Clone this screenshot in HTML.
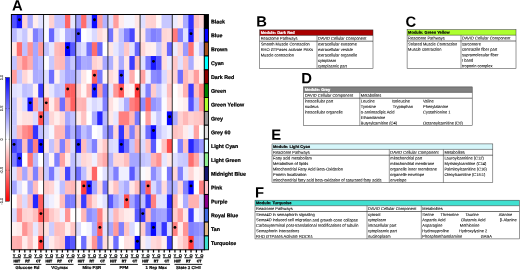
<!DOCTYPE html>
<html><head><meta charset="utf-8"><title>Figure</title>
<style>html,body{margin:0;padding:0;background:#fff}svg{display:block}text{font-family:'Liberation Sans',Arial,Helvetica,sans-serif;text-rendering:geometricPrecision;fill:#000;stroke:#000;stroke-width:0.06px}.b{font-weight:bold;stroke-width:0.18px}.t{font-size:4px}.l{font-size:5.3px;font-weight:bold;stroke-width:0.22px}.p{font-size:14.8px;font-weight:bold;stroke:none}</style></head><body>
<svg width="520" height="270" viewBox="0 0 520 270">
<rect width="520" height="270" fill="#fff"/>
<g>
<rect x="11.4" y="14.5" width="5.76" height="14.24" fill="#5252ff"/>
<rect x="16.76" y="14.5" width="5.76" height="14.24" fill="#1414ff"/>
<rect x="22.12" y="14.5" width="5.76" height="14.24" fill="#ffd4d4"/>
<rect x="27.48" y="14.5" width="5.76" height="14.24" fill="#ababff"/>
<rect x="32.85" y="14.5" width="5.76" height="14.24" fill="#ffeded"/>
<rect x="38.21" y="14.5" width="5.76" height="14.24" fill="#e0e0ff"/>
<rect x="43.57" y="14.5" width="5.76" height="14.24" fill="#f7f7ff"/>
<rect x="48.93" y="14.5" width="5.76" height="14.24" fill="#ffd1d1"/>
<rect x="54.29" y="14.5" width="5.76" height="14.24" fill="#c2c2ff"/>
<rect x="59.66" y="14.5" width="5.76" height="14.24" fill="#c2c2ff"/>
<rect x="65.02" y="14.5" width="5.76" height="14.24" fill="#ff6666"/>
<rect x="70.38" y="14.5" width="5.76" height="14.24" fill="#e6e6ff"/>
<rect x="75.74" y="14.5" width="5.76" height="14.24" fill="#a1a1ff"/>
<rect x="81.1" y="14.5" width="5.76" height="14.24" fill="#ff6e6e"/>
<rect x="86.46" y="14.5" width="5.76" height="14.24" fill="#c2c2ff"/>
<rect x="91.83" y="14.5" width="5.76" height="14.24" fill="#0d0dff"/>
<rect x="97.19" y="14.5" width="5.76" height="14.24" fill="#ff9e9e"/>
<rect x="102.55" y="14.5" width="5.76" height="14.24" fill="#b2b2ff"/>
<rect x="107.91" y="14.5" width="5.76" height="14.24" fill="#dedeff"/>
<rect x="113.27" y="14.5" width="5.76" height="14.24" fill="#ff9e9e"/>
<rect x="118.63" y="14.5" width="5.76" height="14.24" fill="#ffebeb"/>
<rect x="124" y="14.5" width="5.76" height="14.24" fill="#f5f5ff"/>
<rect x="129.36" y="14.5" width="5.76" height="14.24" fill="#f5f5ff"/>
<rect x="134.72" y="14.5" width="5.76" height="14.24" fill="#ffe6e6"/>
<rect x="140.08" y="14.5" width="5.76" height="14.24" fill="#dedeff"/>
<rect x="145.44" y="14.5" width="5.76" height="14.24" fill="#ffd4d4"/>
<rect x="150.8" y="14.5" width="5.76" height="14.24" fill="#ffd1d1"/>
<rect x="156.17" y="14.5" width="5.76" height="14.24" fill="#fff7f7"/>
<rect x="161.53" y="14.5" width="5.76" height="14.24" fill="#c7c7ff"/>
<rect x="166.89" y="14.5" width="5.76" height="14.24" fill="#c7c7ff"/>
<rect x="172.25" y="14.5" width="5.76" height="14.24" fill="#ebebff"/>
<rect x="177.61" y="14.5" width="5.76" height="14.24" fill="#ffeded"/>
<rect x="182.97" y="14.5" width="5.76" height="14.24" fill="#ababff"/>
<rect x="188.34" y="14.5" width="5.76" height="14.24" fill="#3333ff"/>
<rect x="193.7" y="14.5" width="5.76" height="14.24" fill="#ffc2c2"/>
<rect x="199.06" y="14.5" width="5.76" height="14.24" fill="#ffd6d6"/>
<rect x="11.4" y="28.34" width="5.76" height="14.24" fill="#babaff"/>
<rect x="16.76" y="28.34" width="5.76" height="14.24" fill="#e0e0ff"/>
<rect x="22.12" y="28.34" width="5.76" height="14.24" fill="#c7c7ff"/>
<rect x="27.48" y="28.34" width="5.76" height="14.24" fill="#fff0f0"/>
<rect x="32.85" y="28.34" width="5.76" height="14.24" fill="#8080ff"/>
<rect x="38.21" y="28.34" width="5.76" height="14.24" fill="#a6a6ff"/>
<rect x="43.57" y="28.34" width="5.76" height="14.24" fill="#fafaff"/>
<rect x="48.93" y="28.34" width="5.76" height="14.24" fill="#6666ff"/>
<rect x="54.29" y="28.34" width="5.76" height="14.24" fill="#dedeff"/>
<rect x="59.66" y="28.34" width="5.76" height="14.24" fill="#f7f7ff"/>
<rect x="65.02" y="28.34" width="5.76" height="14.24" fill="#ababff"/>
<rect x="70.38" y="28.34" width="5.76" height="14.24" fill="#a6a6ff"/>
<rect x="75.74" y="28.34" width="5.76" height="14.24" fill="#4040ff"/>
<rect x="81.1" y="28.34" width="5.76" height="14.24" fill="#ffffff"/>
<rect x="86.46" y="28.34" width="5.76" height="14.24" fill="#f5f5ff"/>
<rect x="91.83" y="28.34" width="5.76" height="14.24" fill="#d9d9ff"/>
<rect x="97.19" y="28.34" width="5.76" height="14.24" fill="#ffd9d9"/>
<rect x="102.55" y="28.34" width="5.76" height="14.24" fill="#ffebeb"/>
<rect x="107.91" y="28.34" width="5.76" height="14.24" fill="#7373ff"/>
<rect x="113.27" y="28.34" width="5.76" height="14.24" fill="#ffe6e6"/>
<rect x="118.63" y="28.34" width="5.76" height="14.24" fill="#c2c2ff"/>
<rect x="124" y="28.34" width="5.76" height="14.24" fill="#8080ff"/>
<rect x="129.36" y="28.34" width="5.76" height="14.24" fill="#4747ff"/>
<rect x="134.72" y="28.34" width="5.76" height="14.24" fill="#ffebeb"/>
<rect x="140.08" y="28.34" width="5.76" height="14.24" fill="#ffe6e6"/>
<rect x="145.44" y="28.34" width="5.76" height="14.24" fill="#a1a1ff"/>
<rect x="150.8" y="28.34" width="5.76" height="14.24" fill="#8080ff"/>
<rect x="156.17" y="28.34" width="5.76" height="14.24" fill="#8c8cff"/>
<rect x="161.53" y="28.34" width="5.76" height="14.24" fill="#ffd6d6"/>
<rect x="166.89" y="28.34" width="5.76" height="14.24" fill="#ffdbdb"/>
<rect x="172.25" y="28.34" width="5.76" height="14.24" fill="#ff7a7a"/>
<rect x="177.61" y="28.34" width="5.76" height="14.24" fill="#8080ff"/>
<rect x="182.97" y="28.34" width="5.76" height="14.24" fill="#e0e0ff"/>
<rect x="188.34" y="28.34" width="5.76" height="14.24" fill="#1f1fff"/>
<rect x="193.7" y="28.34" width="5.76" height="14.24" fill="#ffd6d6"/>
<rect x="199.06" y="28.34" width="5.76" height="14.24" fill="#e0e0ff"/>
<rect x="11.4" y="42.18" width="5.76" height="14.24" fill="#ffe6e6"/>
<rect x="16.76" y="42.18" width="5.76" height="14.24" fill="#ff6e6e"/>
<rect x="22.12" y="42.18" width="5.76" height="14.24" fill="#bfbfff"/>
<rect x="27.48" y="42.18" width="5.76" height="14.24" fill="#ff9494"/>
<rect x="32.85" y="42.18" width="5.76" height="14.24" fill="#a6a6ff"/>
<rect x="38.21" y="42.18" width="5.76" height="14.24" fill="#ff9999"/>
<rect x="43.57" y="42.18" width="5.76" height="14.24" fill="#c2c2ff"/>
<rect x="48.93" y="42.18" width="5.76" height="14.24" fill="#e6e6ff"/>
<rect x="54.29" y="42.18" width="5.76" height="14.24" fill="#ffb8b8"/>
<rect x="59.66" y="42.18" width="5.76" height="14.24" fill="#ffadad"/>
<rect x="65.02" y="42.18" width="5.76" height="14.24" fill="#0000ff"/>
<rect x="70.38" y="42.18" width="5.76" height="14.24" fill="#5959ff"/>
<rect x="75.74" y="42.18" width="5.76" height="14.24" fill="#c7c7ff"/>
<rect x="81.1" y="42.18" width="5.76" height="14.24" fill="#e0e0ff"/>
<rect x="86.46" y="42.18" width="5.76" height="14.24" fill="#7373ff"/>
<rect x="91.83" y="42.18" width="5.76" height="14.24" fill="#ff6e6e"/>
<rect x="97.19" y="42.18" width="5.76" height="14.24" fill="#6666ff"/>
<rect x="102.55" y="42.18" width="5.76" height="14.24" fill="#ffffff"/>
<rect x="107.91" y="42.18" width="5.76" height="14.24" fill="#ffe6e6"/>
<rect x="113.27" y="42.18" width="5.76" height="14.24" fill="#e6e6ff"/>
<rect x="118.63" y="42.18" width="5.76" height="14.24" fill="#c7c7ff"/>
<rect x="124" y="42.18" width="5.76" height="14.24" fill="#ffc7c7"/>
<rect x="129.36" y="42.18" width="5.76" height="14.24" fill="#e0e0ff"/>
<rect x="134.72" y="42.18" width="5.76" height="14.24" fill="#6666ff"/>
<rect x="140.08" y="42.18" width="5.76" height="14.24" fill="#ffd6d6"/>
<rect x="145.44" y="42.18" width="5.76" height="14.24" fill="#ffeded"/>
<rect x="150.8" y="42.18" width="5.76" height="14.24" fill="#fff0f0"/>
<rect x="156.17" y="42.18" width="5.76" height="14.24" fill="#c7c7ff"/>
<rect x="161.53" y="42.18" width="5.76" height="14.24" fill="#ffdbdb"/>
<rect x="166.89" y="42.18" width="5.76" height="14.24" fill="#6666ff"/>
<rect x="172.25" y="42.18" width="5.76" height="14.24" fill="#ebebff"/>
<rect x="177.61" y="42.18" width="5.76" height="14.24" fill="#ffd6d6"/>
<rect x="182.97" y="42.18" width="5.76" height="14.24" fill="#9999ff"/>
<rect x="188.34" y="42.18" width="5.76" height="14.24" fill="#ff7373"/>
<rect x="193.7" y="42.18" width="5.76" height="14.24" fill="#f0f0ff"/>
<rect x="199.06" y="42.18" width="5.76" height="14.24" fill="#c2c2ff"/>
<rect x="11.4" y="56.02" width="5.76" height="14.24" fill="#c2c2ff"/>
<rect x="16.76" y="56.02" width="5.76" height="14.24" fill="#ffb8b8"/>
<rect x="22.12" y="56.02" width="5.76" height="14.24" fill="#ff8c8c"/>
<rect x="27.48" y="56.02" width="5.76" height="14.24" fill="#ffadad"/>
<rect x="32.85" y="56.02" width="5.76" height="14.24" fill="#a6a6ff"/>
<rect x="38.21" y="56.02" width="5.76" height="14.24" fill="#babaff"/>
<rect x="43.57" y="56.02" width="5.76" height="14.24" fill="#ffffff"/>
<rect x="48.93" y="56.02" width="5.76" height="14.24" fill="#c7c7ff"/>
<rect x="54.29" y="56.02" width="5.76" height="14.24" fill="#ffbdbd"/>
<rect x="59.66" y="56.02" width="5.76" height="14.24" fill="#ffb8b8"/>
<rect x="65.02" y="56.02" width="5.76" height="14.24" fill="#a1a1ff"/>
<rect x="70.38" y="56.02" width="5.76" height="14.24" fill="#c7c7ff"/>
<rect x="75.74" y="56.02" width="5.76" height="14.24" fill="#8080ff"/>
<rect x="81.1" y="56.02" width="5.76" height="14.24" fill="#ababff"/>
<rect x="86.46" y="56.02" width="5.76" height="14.24" fill="#a6a6ff"/>
<rect x="91.83" y="56.02" width="5.76" height="14.24" fill="#ffd1d1"/>
<rect x="97.19" y="56.02" width="5.76" height="14.24" fill="#ffdede"/>
<rect x="102.55" y="56.02" width="5.76" height="14.24" fill="#a6a6ff"/>
<rect x="107.91" y="56.02" width="5.76" height="14.24" fill="#b0b0ff"/>
<rect x="113.27" y="56.02" width="5.76" height="14.24" fill="#ffebeb"/>
<rect x="118.63" y="56.02" width="5.76" height="14.24" fill="#ababff"/>
<rect x="124" y="56.02" width="5.76" height="14.24" fill="#ffe6e6"/>
<rect x="129.36" y="56.02" width="5.76" height="14.24" fill="#3b3bff"/>
<rect x="134.72" y="56.02" width="5.76" height="14.24" fill="#ffbdbd"/>
<rect x="140.08" y="56.02" width="5.76" height="14.24" fill="#e0e0ff"/>
<rect x="145.44" y="56.02" width="5.76" height="14.24" fill="#7878ff"/>
<rect x="150.8" y="56.02" width="5.76" height="14.24" fill="#1919ff"/>
<rect x="156.17" y="56.02" width="5.76" height="14.24" fill="#5252ff"/>
<rect x="161.53" y="56.02" width="5.76" height="14.24" fill="#ffdede"/>
<rect x="166.89" y="56.02" width="5.76" height="14.24" fill="#ebebff"/>
<rect x="172.25" y="56.02" width="5.76" height="14.24" fill="#ffc7c7"/>
<rect x="177.61" y="56.02" width="5.76" height="14.24" fill="#e0e0ff"/>
<rect x="182.97" y="56.02" width="5.76" height="14.24" fill="#ffc2c2"/>
<rect x="188.34" y="56.02" width="5.76" height="14.24" fill="#ababff"/>
<rect x="193.7" y="56.02" width="5.76" height="14.24" fill="#fff2f2"/>
<rect x="199.06" y="56.02" width="5.76" height="14.24" fill="#fff5f5"/>
<rect x="11.4" y="69.86" width="5.76" height="14.24" fill="#ff9e9e"/>
<rect x="16.76" y="69.86" width="5.76" height="14.24" fill="#c7c7ff"/>
<rect x="22.12" y="69.86" width="5.76" height="14.24" fill="#ffd6d6"/>
<rect x="27.48" y="69.86" width="5.76" height="14.24" fill="#fff0f0"/>
<rect x="32.85" y="69.86" width="5.76" height="14.24" fill="#ababff"/>
<rect x="38.21" y="69.86" width="5.76" height="14.24" fill="#b0b0ff"/>
<rect x="43.57" y="69.86" width="5.76" height="14.24" fill="#e0e0ff"/>
<rect x="48.93" y="69.86" width="5.76" height="14.24" fill="#6e6eff"/>
<rect x="54.29" y="69.86" width="5.76" height="14.24" fill="#fff0f0"/>
<rect x="59.66" y="69.86" width="5.76" height="14.24" fill="#ccccff"/>
<rect x="65.02" y="69.86" width="5.76" height="14.24" fill="#a6a6ff"/>
<rect x="70.38" y="69.86" width="5.76" height="14.24" fill="#ababff"/>
<rect x="75.74" y="69.86" width="5.76" height="14.24" fill="#c7c7ff"/>
<rect x="81.1" y="69.86" width="5.76" height="14.24" fill="#ffe6e6"/>
<rect x="86.46" y="69.86" width="5.76" height="14.24" fill="#ffffff"/>
<rect x="91.83" y="69.86" width="5.76" height="14.24" fill="#ff6161"/>
<rect x="97.19" y="69.86" width="5.76" height="14.24" fill="#7878ff"/>
<rect x="102.55" y="69.86" width="5.76" height="14.24" fill="#fff5f5"/>
<rect x="107.91" y="69.86" width="5.76" height="14.24" fill="#ffdbdb"/>
<rect x="113.27" y="69.86" width="5.76" height="14.24" fill="#ffebeb"/>
<rect x="118.63" y="69.86" width="5.76" height="14.24" fill="#3333ff"/>
<rect x="124" y="69.86" width="5.76" height="14.24" fill="#e0e0ff"/>
<rect x="129.36" y="69.86" width="5.76" height="14.24" fill="#ffadad"/>
<rect x="134.72" y="69.86" width="5.76" height="14.24" fill="#ffffff"/>
<rect x="140.08" y="69.86" width="5.76" height="14.24" fill="#ffa3a3"/>
<rect x="145.44" y="69.86" width="5.76" height="14.24" fill="#f0f0ff"/>
<rect x="150.8" y="69.86" width="5.76" height="14.24" fill="#8c8cff"/>
<rect x="156.17" y="69.86" width="5.76" height="14.24" fill="#8080ff"/>
<rect x="161.53" y="69.86" width="5.76" height="14.24" fill="#d9d9ff"/>
<rect x="166.89" y="69.86" width="5.76" height="14.24" fill="#ffdbdb"/>
<rect x="172.25" y="69.86" width="5.76" height="14.24" fill="#ffd1d1"/>
<rect x="177.61" y="69.86" width="5.76" height="14.24" fill="#6e6eff"/>
<rect x="182.97" y="69.86" width="5.76" height="14.24" fill="#ffb8b8"/>
<rect x="188.34" y="69.86" width="5.76" height="14.24" fill="#ffd6d6"/>
<rect x="193.7" y="69.86" width="5.76" height="14.24" fill="#ff9e9e"/>
<rect x="199.06" y="69.86" width="5.76" height="14.24" fill="#ffebeb"/>
<rect x="11.4" y="83.7" width="5.76" height="14.24" fill="#e0e0ff"/>
<rect x="16.76" y="83.7" width="5.76" height="14.24" fill="#e6e6ff"/>
<rect x="22.12" y="83.7" width="5.76" height="14.24" fill="#bfbfff"/>
<rect x="27.48" y="83.7" width="5.76" height="14.24" fill="#c7c7ff"/>
<rect x="32.85" y="83.7" width="5.76" height="14.24" fill="#fff0f0"/>
<rect x="38.21" y="83.7" width="5.76" height="14.24" fill="#3b3bff"/>
<rect x="43.57" y="83.7" width="5.76" height="14.24" fill="#ffe8e8"/>
<rect x="48.93" y="83.7" width="5.76" height="14.24" fill="#e6e6ff"/>
<rect x="54.29" y="83.7" width="5.76" height="14.24" fill="#bfbfff"/>
<rect x="59.66" y="83.7" width="5.76" height="14.24" fill="#c7c7ff"/>
<rect x="65.02" y="83.7" width="5.76" height="14.24" fill="#ff5959"/>
<rect x="70.38" y="83.7" width="5.76" height="14.24" fill="#ff6161"/>
<rect x="75.74" y="83.7" width="5.76" height="14.24" fill="#ffcccc"/>
<rect x="81.1" y="83.7" width="5.76" height="14.24" fill="#fff5f5"/>
<rect x="86.46" y="83.7" width="5.76" height="14.24" fill="#ffb2b2"/>
<rect x="91.83" y="83.7" width="5.76" height="14.24" fill="#1919ff"/>
<rect x="97.19" y="83.7" width="5.76" height="14.24" fill="#ff9e9e"/>
<rect x="102.55" y="83.7" width="5.76" height="14.24" fill="#6e6eff"/>
<rect x="107.91" y="83.7" width="5.76" height="14.24" fill="#e6e6ff"/>
<rect x="113.27" y="83.7" width="5.76" height="14.24" fill="#ff9494"/>
<rect x="118.63" y="83.7" width="5.76" height="14.24" fill="#ff5757"/>
<rect x="124" y="83.7" width="5.76" height="14.24" fill="#ffebeb"/>
<rect x="129.36" y="83.7" width="5.76" height="14.24" fill="#fff5f5"/>
<rect x="134.72" y="83.7" width="5.76" height="14.24" fill="#ff3838"/>
<rect x="140.08" y="83.7" width="5.76" height="14.24" fill="#e0e0ff"/>
<rect x="145.44" y="83.7" width="5.76" height="14.24" fill="#8080ff"/>
<rect x="150.8" y="83.7" width="5.76" height="14.24" fill="#ffcccc"/>
<rect x="156.17" y="83.7" width="5.76" height="14.24" fill="#ccccff"/>
<rect x="161.53" y="83.7" width="5.76" height="14.24" fill="#f0f0ff"/>
<rect x="166.89" y="83.7" width="5.76" height="14.24" fill="#ffbdbd"/>
<rect x="172.25" y="83.7" width="5.76" height="14.24" fill="#ffffff"/>
<rect x="177.61" y="83.7" width="5.76" height="14.24" fill="#ffeded"/>
<rect x="182.97" y="83.7" width="5.76" height="14.24" fill="#ffb2b2"/>
<rect x="188.34" y="83.7" width="5.76" height="14.24" fill="#3b3bff"/>
<rect x="193.7" y="83.7" width="5.76" height="14.24" fill="#ffbdbd"/>
<rect x="199.06" y="83.7" width="5.76" height="14.24" fill="#ff8080"/>
<rect x="11.4" y="97.54" width="5.76" height="14.24" fill="#c7c7ff"/>
<rect x="16.76" y="97.54" width="5.76" height="14.24" fill="#ffe8e8"/>
<rect x="22.12" y="97.54" width="5.76" height="14.24" fill="#dbdbff"/>
<rect x="27.48" y="97.54" width="5.76" height="14.24" fill="#1414ff"/>
<rect x="32.85" y="97.54" width="5.76" height="14.24" fill="#ffa3a3"/>
<rect x="38.21" y="97.54" width="5.76" height="14.24" fill="#bfbfff"/>
<rect x="43.57" y="97.54" width="5.76" height="14.24" fill="#ff7878"/>
<rect x="48.93" y="97.54" width="5.76" height="14.24" fill="#ffeded"/>
<rect x="54.29" y="97.54" width="5.76" height="14.24" fill="#ffb2b2"/>
<rect x="59.66" y="97.54" width="5.76" height="14.24" fill="#6e6eff"/>
<rect x="65.02" y="97.54" width="5.76" height="14.24" fill="#ffa3a3"/>
<rect x="70.38" y="97.54" width="5.76" height="14.24" fill="#ff6161"/>
<rect x="75.74" y="97.54" width="5.76" height="14.24" fill="#ffb8b8"/>
<rect x="81.1" y="97.54" width="5.76" height="14.24" fill="#ffb2b2"/>
<rect x="86.46" y="97.54" width="5.76" height="14.24" fill="#f0f0ff"/>
<rect x="91.83" y="97.54" width="5.76" height="14.24" fill="#d9d9ff"/>
<rect x="97.19" y="97.54" width="5.76" height="14.24" fill="#e6e6ff"/>
<rect x="102.55" y="97.54" width="5.76" height="14.24" fill="#8080ff"/>
<rect x="107.91" y="97.54" width="5.76" height="14.24" fill="#ffe0e0"/>
<rect x="113.27" y="97.54" width="5.76" height="14.24" fill="#fff7f7"/>
<rect x="118.63" y="97.54" width="5.76" height="14.24" fill="#e6e6ff"/>
<rect x="124" y="97.54" width="5.76" height="14.24" fill="#ababff"/>
<rect x="129.36" y="97.54" width="5.76" height="14.24" fill="#ff8080"/>
<rect x="134.72" y="97.54" width="5.76" height="14.24" fill="#ff6666"/>
<rect x="140.08" y="97.54" width="5.76" height="14.24" fill="#8c8cff"/>
<rect x="145.44" y="97.54" width="5.76" height="14.24" fill="#ff6666"/>
<rect x="150.8" y="97.54" width="5.76" height="14.24" fill="#9494ff"/>
<rect x="156.17" y="97.54" width="5.76" height="14.24" fill="#a6a6ff"/>
<rect x="161.53" y="97.54" width="5.76" height="14.24" fill="#fafaff"/>
<rect x="166.89" y="97.54" width="5.76" height="14.24" fill="#ffd1d1"/>
<rect x="172.25" y="97.54" width="5.76" height="14.24" fill="#ffffff"/>
<rect x="177.61" y="97.54" width="5.76" height="14.24" fill="#fff7f7"/>
<rect x="182.97" y="97.54" width="5.76" height="14.24" fill="#ffeded"/>
<rect x="188.34" y="97.54" width="5.76" height="14.24" fill="#5252ff"/>
<rect x="193.7" y="97.54" width="5.76" height="14.24" fill="#bfbfff"/>
<rect x="199.06" y="97.54" width="5.76" height="14.24" fill="#ff9494"/>
<rect x="11.4" y="111.38" width="5.76" height="14.24" fill="#c7c7ff"/>
<rect x="16.76" y="111.38" width="5.76" height="14.24" fill="#ffeded"/>
<rect x="22.12" y="111.38" width="5.76" height="14.24" fill="#ffe0e0"/>
<rect x="27.48" y="111.38" width="5.76" height="14.24" fill="#ffe0e0"/>
<rect x="32.85" y="111.38" width="5.76" height="14.24" fill="#dbdbff"/>
<rect x="38.21" y="111.38" width="5.76" height="14.24" fill="#ff4d4d"/>
<rect x="43.57" y="111.38" width="5.76" height="14.24" fill="#b2b2ff"/>
<rect x="48.93" y="111.38" width="5.76" height="14.24" fill="#ffd6d6"/>
<rect x="54.29" y="111.38" width="5.76" height="14.24" fill="#ffeded"/>
<rect x="59.66" y="111.38" width="5.76" height="14.24" fill="#ffd6d6"/>
<rect x="65.02" y="111.38" width="5.76" height="14.24" fill="#a6a6ff"/>
<rect x="70.38" y="111.38" width="5.76" height="14.24" fill="#c2c2ff"/>
<rect x="75.74" y="111.38" width="5.76" height="14.24" fill="#ffebeb"/>
<rect x="81.1" y="111.38" width="5.76" height="14.24" fill="#ffc2c2"/>
<rect x="86.46" y="111.38" width="5.76" height="14.24" fill="#ffffff"/>
<rect x="91.83" y="111.38" width="5.76" height="14.24" fill="#ababff"/>
<rect x="97.19" y="111.38" width="5.76" height="14.24" fill="#2626ff"/>
<rect x="102.55" y="111.38" width="5.76" height="14.24" fill="#babaff"/>
<rect x="107.91" y="111.38" width="5.76" height="14.24" fill="#ffe8e8"/>
<rect x="113.27" y="111.38" width="5.76" height="14.24" fill="#e6e6ff"/>
<rect x="118.63" y="111.38" width="5.76" height="14.24" fill="#ff8080"/>
<rect x="124" y="111.38" width="5.76" height="14.24" fill="#ff8080"/>
<rect x="129.36" y="111.38" width="5.76" height="14.24" fill="#ffb8b8"/>
<rect x="134.72" y="111.38" width="5.76" height="14.24" fill="#7878ff"/>
<rect x="140.08" y="111.38" width="5.76" height="14.24" fill="#ffffff"/>
<rect x="145.44" y="111.38" width="5.76" height="14.24" fill="#ff9e9e"/>
<rect x="150.8" y="111.38" width="5.76" height="14.24" fill="#f0f0ff"/>
<rect x="156.17" y="111.38" width="5.76" height="14.24" fill="#c7c7ff"/>
<rect x="161.53" y="111.38" width="5.76" height="14.24" fill="#fafaff"/>
<rect x="166.89" y="111.38" width="5.76" height="14.24" fill="#0505ff"/>
<rect x="172.25" y="111.38" width="5.76" height="14.24" fill="#ababff"/>
<rect x="177.61" y="111.38" width="5.76" height="14.24" fill="#ffd1d1"/>
<rect x="182.97" y="111.38" width="5.76" height="14.24" fill="#ffb8b8"/>
<rect x="188.34" y="111.38" width="5.76" height="14.24" fill="#ffd1d1"/>
<rect x="193.7" y="111.38" width="5.76" height="14.24" fill="#ffc7c7"/>
<rect x="199.06" y="111.38" width="5.76" height="14.24" fill="#ffc2c2"/>
<rect x="11.4" y="125.22" width="5.76" height="14.24" fill="#ccccff"/>
<rect x="16.76" y="125.22" width="5.76" height="14.24" fill="#ffb8b8"/>
<rect x="22.12" y="125.22" width="5.76" height="14.24" fill="#ff8c8c"/>
<rect x="27.48" y="125.22" width="5.76" height="14.24" fill="#ff7a7a"/>
<rect x="32.85" y="125.22" width="5.76" height="14.24" fill="#3333ff"/>
<rect x="38.21" y="125.22" width="5.76" height="14.24" fill="#bfbfff"/>
<rect x="43.57" y="125.22" width="5.76" height="14.24" fill="#dbdbff"/>
<rect x="48.93" y="125.22" width="5.76" height="14.24" fill="#f5f5ff"/>
<rect x="54.29" y="125.22" width="5.76" height="14.24" fill="#ffb8b8"/>
<rect x="59.66" y="125.22" width="5.76" height="14.24" fill="#ffb8b8"/>
<rect x="65.02" y="125.22" width="5.76" height="14.24" fill="#8080ff"/>
<rect x="70.38" y="125.22" width="5.76" height="14.24" fill="#b2b2ff"/>
<rect x="75.74" y="125.22" width="5.76" height="14.24" fill="#8080ff"/>
<rect x="81.1" y="125.22" width="5.76" height="14.24" fill="#bfbfff"/>
<rect x="86.46" y="125.22" width="5.76" height="14.24" fill="#a1a1ff"/>
<rect x="91.83" y="125.22" width="5.76" height="14.24" fill="#ffffff"/>
<rect x="97.19" y="125.22" width="5.76" height="14.24" fill="#f5f5ff"/>
<rect x="102.55" y="125.22" width="5.76" height="14.24" fill="#a1a1ff"/>
<rect x="107.91" y="125.22" width="5.76" height="14.24" fill="#7878ff"/>
<rect x="113.27" y="125.22" width="5.76" height="14.24" fill="#ffd6d6"/>
<rect x="118.63" y="125.22" width="5.76" height="14.24" fill="#3333ff"/>
<rect x="124" y="125.22" width="5.76" height="14.24" fill="#ffb8b8"/>
<rect x="129.36" y="125.22" width="5.76" height="14.24" fill="#8080ff"/>
<rect x="134.72" y="125.22" width="5.76" height="14.24" fill="#ffbdbd"/>
<rect x="140.08" y="125.22" width="5.76" height="14.24" fill="#e6e6ff"/>
<rect x="145.44" y="125.22" width="5.76" height="14.24" fill="#6e6eff"/>
<rect x="150.8" y="125.22" width="5.76" height="14.24" fill="#0d0dff"/>
<rect x="156.17" y="125.22" width="5.76" height="14.24" fill="#c2c2ff"/>
<rect x="161.53" y="125.22" width="5.76" height="14.24" fill="#e0e0ff"/>
<rect x="166.89" y="125.22" width="5.76" height="14.24" fill="#f0f0ff"/>
<rect x="172.25" y="125.22" width="5.76" height="14.24" fill="#ffc2c2"/>
<rect x="177.61" y="125.22" width="5.76" height="14.24" fill="#ffcccc"/>
<rect x="182.97" y="125.22" width="5.76" height="14.24" fill="#ffebeb"/>
<rect x="188.34" y="125.22" width="5.76" height="14.24" fill="#f0f0ff"/>
<rect x="193.7" y="125.22" width="5.76" height="14.24" fill="#ffa3a3"/>
<rect x="199.06" y="125.22" width="5.76" height="14.24" fill="#ffffff"/>
<rect x="11.4" y="139.06" width="5.76" height="14.24" fill="#4545ff"/>
<rect x="16.76" y="139.06" width="5.76" height="14.24" fill="#6666ff"/>
<rect x="22.12" y="139.06" width="5.76" height="14.24" fill="#ffbdbd"/>
<rect x="27.48" y="139.06" width="5.76" height="14.24" fill="#5959ff"/>
<rect x="32.85" y="139.06" width="5.76" height="14.24" fill="#ff8080"/>
<rect x="38.21" y="139.06" width="5.76" height="14.24" fill="#0808ff"/>
<rect x="43.57" y="139.06" width="5.76" height="14.24" fill="#ffebeb"/>
<rect x="48.93" y="139.06" width="5.76" height="14.24" fill="#c2c2ff"/>
<rect x="54.29" y="139.06" width="5.76" height="14.24" fill="#ffcccc"/>
<rect x="59.66" y="139.06" width="5.76" height="14.24" fill="#8080ff"/>
<rect x="65.02" y="139.06" width="5.76" height="14.24" fill="#ffb8b8"/>
<rect x="70.38" y="139.06" width="5.76" height="14.24" fill="#d9d9ff"/>
<rect x="75.74" y="139.06" width="5.76" height="14.24" fill="#2626ff"/>
<rect x="81.1" y="139.06" width="5.76" height="14.24" fill="#ffbdbd"/>
<rect x="86.46" y="139.06" width="5.76" height="14.24" fill="#bfbfff"/>
<rect x="91.83" y="139.06" width="5.76" height="14.24" fill="#8080ff"/>
<rect x="97.19" y="139.06" width="5.76" height="14.24" fill="#ffe6e6"/>
<rect x="102.55" y="139.06" width="5.76" height="14.24" fill="#ffc7c7"/>
<rect x="107.91" y="139.06" width="5.76" height="14.24" fill="#d9d9ff"/>
<rect x="113.27" y="139.06" width="5.76" height="14.24" fill="#e0e0ff"/>
<rect x="118.63" y="139.06" width="5.76" height="14.24" fill="#1919ff"/>
<rect x="124" y="139.06" width="5.76" height="14.24" fill="#6e6eff"/>
<rect x="129.36" y="139.06" width="5.76" height="14.24" fill="#c2c2ff"/>
<rect x="134.72" y="139.06" width="5.76" height="14.24" fill="#ffa8a8"/>
<rect x="140.08" y="139.06" width="5.76" height="14.24" fill="#d9d9ff"/>
<rect x="145.44" y="139.06" width="5.76" height="14.24" fill="#ffc2c2"/>
<rect x="150.8" y="139.06" width="5.76" height="14.24" fill="#5959ff"/>
<rect x="156.17" y="139.06" width="5.76" height="14.24" fill="#fafaff"/>
<rect x="161.53" y="139.06" width="5.76" height="14.24" fill="#ffc2c2"/>
<rect x="166.89" y="139.06" width="5.76" height="14.24" fill="#ff4d4d"/>
<rect x="172.25" y="139.06" width="5.76" height="14.24" fill="#ffffff"/>
<rect x="177.61" y="139.06" width="5.76" height="14.24" fill="#8080ff"/>
<rect x="182.97" y="139.06" width="5.76" height="14.24" fill="#ffc2c2"/>
<rect x="188.34" y="139.06" width="5.76" height="14.24" fill="#2626ff"/>
<rect x="193.7" y="139.06" width="5.76" height="14.24" fill="#6e6eff"/>
<rect x="199.06" y="139.06" width="5.76" height="14.24" fill="#9999ff"/>
<rect x="11.4" y="152.9" width="5.76" height="14.24" fill="#8080ff"/>
<rect x="16.76" y="152.9" width="5.76" height="14.24" fill="#2626ff"/>
<rect x="22.12" y="152.9" width="5.76" height="14.24" fill="#ffffff"/>
<rect x="27.48" y="152.9" width="5.76" height="14.24" fill="#ff7878"/>
<rect x="32.85" y="152.9" width="5.76" height="14.24" fill="#babaff"/>
<rect x="38.21" y="152.9" width="5.76" height="14.24" fill="#ffffff"/>
<rect x="43.57" y="152.9" width="5.76" height="14.24" fill="#bfbfff"/>
<rect x="48.93" y="152.9" width="5.76" height="14.24" fill="#fff5f5"/>
<rect x="54.29" y="152.9" width="5.76" height="14.24" fill="#8080ff"/>
<rect x="59.66" y="152.9" width="5.76" height="14.24" fill="#ffa3a3"/>
<rect x="65.02" y="152.9" width="5.76" height="14.24" fill="#ffebeb"/>
<rect x="70.38" y="152.9" width="5.76" height="14.24" fill="#bfbfff"/>
<rect x="75.74" y="152.9" width="5.76" height="14.24" fill="#d9d9ff"/>
<rect x="81.1" y="152.9" width="5.76" height="14.24" fill="#ffd6d6"/>
<rect x="86.46" y="152.9" width="5.76" height="14.24" fill="#ffe0e0"/>
<rect x="91.83" y="152.9" width="5.76" height="14.24" fill="#f0f0ff"/>
<rect x="97.19" y="152.9" width="5.76" height="14.24" fill="#ffc2c2"/>
<rect x="102.55" y="152.9" width="5.76" height="14.24" fill="#ffa8a8"/>
<rect x="107.91" y="152.9" width="5.76" height="14.24" fill="#b2b2ff"/>
<rect x="113.27" y="152.9" width="5.76" height="14.24" fill="#ffd6d6"/>
<rect x="118.63" y="152.9" width="5.76" height="14.24" fill="#ffd6d6"/>
<rect x="124" y="152.9" width="5.76" height="14.24" fill="#ffbdbd"/>
<rect x="129.36" y="152.9" width="5.76" height="14.24" fill="#a6a6ff"/>
<rect x="134.72" y="152.9" width="5.76" height="14.24" fill="#a6a6ff"/>
<rect x="140.08" y="152.9" width="5.76" height="14.24" fill="#c2c2ff"/>
<rect x="145.44" y="152.9" width="5.76" height="14.24" fill="#ccccff"/>
<rect x="150.8" y="152.9" width="5.76" height="14.24" fill="#ffb2b2"/>
<rect x="156.17" y="152.9" width="5.76" height="14.24" fill="#ff9191"/>
<rect x="161.53" y="152.9" width="5.76" height="14.24" fill="#e6e6ff"/>
<rect x="166.89" y="152.9" width="5.76" height="14.24" fill="#ffe8e8"/>
<rect x="172.25" y="152.9" width="5.76" height="14.24" fill="#e0e0ff"/>
<rect x="177.61" y="152.9" width="5.76" height="14.24" fill="#ccccff"/>
<rect x="182.97" y="152.9" width="5.76" height="14.24" fill="#c7c7ff"/>
<rect x="188.34" y="152.9" width="5.76" height="14.24" fill="#ff6e6e"/>
<rect x="193.7" y="152.9" width="5.76" height="14.24" fill="#ffa8a8"/>
<rect x="199.06" y="152.9" width="5.76" height="14.24" fill="#e0e0ff"/>
<rect x="11.4" y="166.74" width="5.76" height="14.24" fill="#e0e0ff"/>
<rect x="16.76" y="166.74" width="5.76" height="14.24" fill="#ffbdbd"/>
<rect x="22.12" y="166.74" width="5.76" height="14.24" fill="#a6a6ff"/>
<rect x="27.48" y="166.74" width="5.76" height="14.24" fill="#ffcccc"/>
<rect x="32.85" y="166.74" width="5.76" height="14.24" fill="#8080ff"/>
<rect x="38.21" y="166.74" width="5.76" height="14.24" fill="#ffc2c2"/>
<rect x="43.57" y="166.74" width="5.76" height="14.24" fill="#c7c7ff"/>
<rect x="48.93" y="166.74" width="5.76" height="14.24" fill="#7878ff"/>
<rect x="54.29" y="166.74" width="5.76" height="14.24" fill="#e0e0ff"/>
<rect x="59.66" y="166.74" width="5.76" height="14.24" fill="#ffd6d6"/>
<rect x="65.02" y="166.74" width="5.76" height="14.24" fill="#4545ff"/>
<rect x="70.38" y="166.74" width="5.76" height="14.24" fill="#bfbfff"/>
<rect x="75.74" y="166.74" width="5.76" height="14.24" fill="#6e6eff"/>
<rect x="81.1" y="166.74" width="5.76" height="14.24" fill="#bfbfff"/>
<rect x="86.46" y="166.74" width="5.76" height="14.24" fill="#ffe6e6"/>
<rect x="91.83" y="166.74" width="5.76" height="14.24" fill="#ff6666"/>
<rect x="97.19" y="166.74" width="5.76" height="14.24" fill="#ffffff"/>
<rect x="102.55" y="166.74" width="5.76" height="14.24" fill="#e0e0ff"/>
<rect x="107.91" y="166.74" width="5.76" height="14.24" fill="#c7c7ff"/>
<rect x="113.27" y="166.74" width="5.76" height="14.24" fill="#8080ff"/>
<rect x="118.63" y="166.74" width="5.76" height="14.24" fill="#f0f0ff"/>
<rect x="124" y="166.74" width="5.76" height="14.24" fill="#f0f0ff"/>
<rect x="129.36" y="166.74" width="5.76" height="14.24" fill="#5959ff"/>
<rect x="134.72" y="166.74" width="5.76" height="14.24" fill="#babaff"/>
<rect x="140.08" y="166.74" width="5.76" height="14.24" fill="#fafaff"/>
<rect x="145.44" y="166.74" width="5.76" height="14.24" fill="#fff5f5"/>
<rect x="150.8" y="166.74" width="5.76" height="14.24" fill="#8c8cff"/>
<rect x="156.17" y="166.74" width="5.76" height="14.24" fill="#bfbfff"/>
<rect x="161.53" y="166.74" width="5.76" height="14.24" fill="#ffffff"/>
<rect x="166.89" y="166.74" width="5.76" height="14.24" fill="#7878ff"/>
<rect x="172.25" y="166.74" width="5.76" height="14.24" fill="#ffd6d6"/>
<rect x="177.61" y="166.74" width="5.76" height="14.24" fill="#8080ff"/>
<rect x="182.97" y="166.74" width="5.76" height="14.24" fill="#e6e6ff"/>
<rect x="188.34" y="166.74" width="5.76" height="14.24" fill="#ffd6d6"/>
<rect x="193.7" y="166.74" width="5.76" height="14.24" fill="#fff5f5"/>
<rect x="199.06" y="166.74" width="5.76" height="14.24" fill="#ffeded"/>
<rect x="11.4" y="180.58" width="5.76" height="14.24" fill="#a6a6ff"/>
<rect x="16.76" y="180.58" width="5.76" height="14.24" fill="#e0e0ff"/>
<rect x="22.12" y="180.58" width="5.76" height="14.24" fill="#fffafa"/>
<rect x="27.48" y="180.58" width="5.76" height="14.24" fill="#a6a6ff"/>
<rect x="32.85" y="180.58" width="5.76" height="14.24" fill="#ffbdbd"/>
<rect x="38.21" y="180.58" width="5.76" height="14.24" fill="#ffffff"/>
<rect x="43.57" y="180.58" width="5.76" height="14.24" fill="#ffcccc"/>
<rect x="48.93" y="180.58" width="5.76" height="14.24" fill="#ffd6d6"/>
<rect x="54.29" y="180.58" width="5.76" height="14.24" fill="#f5f5ff"/>
<rect x="59.66" y="180.58" width="5.76" height="14.24" fill="#bfbfff"/>
<rect x="65.02" y="180.58" width="5.76" height="14.24" fill="#ffbdbd"/>
<rect x="70.38" y="180.58" width="5.76" height="14.24" fill="#ffb8b8"/>
<rect x="75.74" y="180.58" width="5.76" height="14.24" fill="#ffebeb"/>
<rect x="81.1" y="180.58" width="5.76" height="14.24" fill="#ff4040"/>
<rect x="86.46" y="180.58" width="5.76" height="14.24" fill="#1919ff"/>
<rect x="91.83" y="180.58" width="5.76" height="14.24" fill="#a6a6ff"/>
<rect x="97.19" y="180.58" width="5.76" height="14.24" fill="#ffdbdb"/>
<rect x="102.55" y="180.58" width="5.76" height="14.24" fill="#7878ff"/>
<rect x="107.91" y="180.58" width="5.76" height="14.24" fill="#ffe8e8"/>
<rect x="113.27" y="180.58" width="5.76" height="14.24" fill="#ffc2c2"/>
<rect x="118.63" y="180.58" width="5.76" height="14.24" fill="#c7c7ff"/>
<rect x="124" y="180.58" width="5.76" height="14.24" fill="#ababff"/>
<rect x="129.36" y="180.58" width="5.76" height="14.24" fill="#ffe6e6"/>
<rect x="134.72" y="180.58" width="5.76" height="14.24" fill="#ffbdbd"/>
<rect x="140.08" y="180.58" width="5.76" height="14.24" fill="#8080ff"/>
<rect x="145.44" y="180.58" width="5.76" height="14.24" fill="#ff5e5e"/>
<rect x="150.8" y="180.58" width="5.76" height="14.24" fill="#d9d9ff"/>
<rect x="156.17" y="180.58" width="5.76" height="14.24" fill="#a6a6ff"/>
<rect x="161.53" y="180.58" width="5.76" height="14.24" fill="#ffdbdb"/>
<rect x="166.89" y="180.58" width="5.76" height="14.24" fill="#a1a1ff"/>
<rect x="172.25" y="180.58" width="5.76" height="14.24" fill="#babaff"/>
<rect x="177.61" y="180.58" width="5.76" height="14.24" fill="#ffd6d6"/>
<rect x="182.97" y="180.58" width="5.76" height="14.24" fill="#8080ff"/>
<rect x="188.34" y="180.58" width="5.76" height="14.24" fill="#0808ff"/>
<rect x="193.7" y="180.58" width="5.76" height="14.24" fill="#ffffff"/>
<rect x="199.06" y="180.58" width="5.76" height="14.24" fill="#ff8080"/>
<rect x="11.4" y="194.42" width="5.76" height="14.24" fill="#ffffff"/>
<rect x="16.76" y="194.42" width="5.76" height="14.24" fill="#ffc7c7"/>
<rect x="22.12" y="194.42" width="5.76" height="14.24" fill="#d9d9ff"/>
<rect x="27.48" y="194.42" width="5.76" height="14.24" fill="#ffb8b8"/>
<rect x="32.85" y="194.42" width="5.76" height="14.24" fill="#2626ff"/>
<rect x="38.21" y="194.42" width="5.76" height="14.24" fill="#ff5e5e"/>
<rect x="43.57" y="194.42" width="5.76" height="14.24" fill="#e0e0ff"/>
<rect x="48.93" y="194.42" width="5.76" height="14.24" fill="#f0f0ff"/>
<rect x="54.29" y="194.42" width="5.76" height="14.24" fill="#fff7f7"/>
<rect x="59.66" y="194.42" width="5.76" height="14.24" fill="#ffbdbd"/>
<rect x="65.02" y="194.42" width="5.76" height="14.24" fill="#7878ff"/>
<rect x="70.38" y="194.42" width="5.76" height="14.24" fill="#8080ff"/>
<rect x="75.74" y="194.42" width="5.76" height="14.24" fill="#ffd6d6"/>
<rect x="81.1" y="194.42" width="5.76" height="14.24" fill="#3b3bff"/>
<rect x="86.46" y="194.42" width="5.76" height="14.24" fill="#ffa8a8"/>
<rect x="91.83" y="194.42" width="5.76" height="14.24" fill="#ffdbdb"/>
<rect x="97.19" y="194.42" width="5.76" height="14.24" fill="#f5f5ff"/>
<rect x="102.55" y="194.42" width="5.76" height="14.24" fill="#e0e0ff"/>
<rect x="107.91" y="194.42" width="5.76" height="14.24" fill="#5959ff"/>
<rect x="113.27" y="194.42" width="5.76" height="14.24" fill="#a6a6ff"/>
<rect x="118.63" y="194.42" width="5.76" height="14.24" fill="#c7c7ff"/>
<rect x="124" y="194.42" width="5.76" height="14.24" fill="#ff4d4d"/>
<rect x="129.36" y="194.42" width="5.76" height="14.24" fill="#a6a6ff"/>
<rect x="134.72" y="194.42" width="5.76" height="14.24" fill="#6666ff"/>
<rect x="140.08" y="194.42" width="5.76" height="14.24" fill="#bfbfff"/>
<rect x="145.44" y="194.42" width="5.76" height="14.24" fill="#3b3bff"/>
<rect x="150.8" y="194.42" width="5.76" height="14.24" fill="#ff8080"/>
<rect x="156.17" y="194.42" width="5.76" height="14.24" fill="#e0e0ff"/>
<rect x="161.53" y="194.42" width="5.76" height="14.24" fill="#e0e0ff"/>
<rect x="166.89" y="194.42" width="5.76" height="14.24" fill="#2626ff"/>
<rect x="172.25" y="194.42" width="5.76" height="14.24" fill="#ffb2b2"/>
<rect x="177.61" y="194.42" width="5.76" height="14.24" fill="#fff5f5"/>
<rect x="182.97" y="194.42" width="5.76" height="14.24" fill="#ababff"/>
<rect x="188.34" y="194.42" width="5.76" height="14.24" fill="#ffb2b2"/>
<rect x="193.7" y="194.42" width="5.76" height="14.24" fill="#ffb2b2"/>
<rect x="199.06" y="194.42" width="5.76" height="14.24" fill="#dbdbff"/>
<rect x="11.4" y="208.26" width="5.76" height="14.24" fill="#d9d9ff"/>
<rect x="16.76" y="208.26" width="5.76" height="14.24" fill="#ff9191"/>
<rect x="22.12" y="208.26" width="5.76" height="14.24" fill="#ffd1d1"/>
<rect x="27.48" y="208.26" width="5.76" height="14.24" fill="#ffd6d6"/>
<rect x="32.85" y="208.26" width="5.76" height="14.24" fill="#ffbdbd"/>
<rect x="38.21" y="208.26" width="5.76" height="14.24" fill="#ff4d4d"/>
<rect x="43.57" y="208.26" width="5.76" height="14.24" fill="#ff9494"/>
<rect x="48.93" y="208.26" width="5.76" height="14.24" fill="#ffc7c7"/>
<rect x="54.29" y="208.26" width="5.76" height="14.24" fill="#ffdbdb"/>
<rect x="59.66" y="208.26" width="5.76" height="14.24" fill="#f0f0ff"/>
<rect x="65.02" y="208.26" width="5.76" height="14.24" fill="#ff9494"/>
<rect x="70.38" y="208.26" width="5.76" height="14.24" fill="#ffffff"/>
<rect x="75.74" y="208.26" width="5.76" height="14.24" fill="#ffffff"/>
<rect x="81.1" y="208.26" width="5.76" height="14.24" fill="#ffb8b8"/>
<rect x="86.46" y="208.26" width="5.76" height="14.24" fill="#8c8cff"/>
<rect x="91.83" y="208.26" width="5.76" height="14.24" fill="#a1a1ff"/>
<rect x="97.19" y="208.26" width="5.76" height="14.24" fill="#ff8080"/>
<rect x="102.55" y="208.26" width="5.76" height="14.24" fill="#ffe6e6"/>
<rect x="107.91" y="208.26" width="5.76" height="14.24" fill="#d9d9ff"/>
<rect x="113.27" y="208.26" width="5.76" height="14.24" fill="#ffb8b8"/>
<rect x="118.63" y="208.26" width="5.76" height="14.24" fill="#ffdbdb"/>
<rect x="124" y="208.26" width="5.76" height="14.24" fill="#ffebeb"/>
<rect x="129.36" y="208.26" width="5.76" height="14.24" fill="#ffeded"/>
<rect x="134.72" y="208.26" width="5.76" height="14.24" fill="#5959ff"/>
<rect x="140.08" y="208.26" width="5.76" height="14.24" fill="#3b3bff"/>
<rect x="145.44" y="208.26" width="5.76" height="14.24" fill="#ffb8b8"/>
<rect x="150.8" y="208.26" width="5.76" height="14.24" fill="#8c8cff"/>
<rect x="156.17" y="208.26" width="5.76" height="14.24" fill="#a1a1ff"/>
<rect x="161.53" y="208.26" width="5.76" height="14.24" fill="#a6a6ff"/>
<rect x="166.89" y="208.26" width="5.76" height="14.24" fill="#5252ff"/>
<rect x="172.25" y="208.26" width="5.76" height="14.24" fill="#ffcccc"/>
<rect x="177.61" y="208.26" width="5.76" height="14.24" fill="#ff9e9e"/>
<rect x="182.97" y="208.26" width="5.76" height="14.24" fill="#ffe6e6"/>
<rect x="188.34" y="208.26" width="5.76" height="14.24" fill="#3b3bff"/>
<rect x="193.7" y="208.26" width="5.76" height="14.24" fill="#f5f5ff"/>
<rect x="199.06" y="208.26" width="5.76" height="14.24" fill="#e0e0ff"/>
<rect x="11.4" y="222.1" width="5.76" height="14.24" fill="#fff2f2"/>
<rect x="16.76" y="222.1" width="5.76" height="14.24" fill="#ffebeb"/>
<rect x="22.12" y="222.1" width="5.76" height="14.24" fill="#ff9494"/>
<rect x="27.48" y="222.1" width="5.76" height="14.24" fill="#ffbdbd"/>
<rect x="32.85" y="222.1" width="5.76" height="14.24" fill="#e6e6ff"/>
<rect x="38.21" y="222.1" width="5.76" height="14.24" fill="#ffbdbd"/>
<rect x="43.57" y="222.1" width="5.76" height="14.24" fill="#ffe0e0"/>
<rect x="48.93" y="222.1" width="5.76" height="14.24" fill="#ccccff"/>
<rect x="54.29" y="222.1" width="5.76" height="14.24" fill="#ffbdbd"/>
<rect x="59.66" y="222.1" width="5.76" height="14.24" fill="#ffc2c2"/>
<rect x="65.02" y="222.1" width="5.76" height="14.24" fill="#ffeded"/>
<rect x="70.38" y="222.1" width="5.76" height="14.24" fill="#ffc7c7"/>
<rect x="75.74" y="222.1" width="5.76" height="14.24" fill="#dbdbff"/>
<rect x="81.1" y="222.1" width="5.76" height="14.24" fill="#ffffff"/>
<rect x="86.46" y="222.1" width="5.76" height="14.24" fill="#f5f5ff"/>
<rect x="91.83" y="222.1" width="5.76" height="14.24" fill="#ababff"/>
<rect x="97.19" y="222.1" width="5.76" height="14.24" fill="#ff5e5e"/>
<rect x="102.55" y="222.1" width="5.76" height="14.24" fill="#e0e0ff"/>
<rect x="107.91" y="222.1" width="5.76" height="14.24" fill="#a6a6ff"/>
<rect x="113.27" y="222.1" width="5.76" height="14.24" fill="#ff9999"/>
<rect x="118.63" y="222.1" width="5.76" height="14.24" fill="#8080ff"/>
<rect x="124" y="222.1" width="5.76" height="14.24" fill="#ffc2c2"/>
<rect x="129.36" y="222.1" width="5.76" height="14.24" fill="#d9d9ff"/>
<rect x="134.72" y="222.1" width="5.76" height="14.24" fill="#ffffff"/>
<rect x="140.08" y="222.1" width="5.76" height="14.24" fill="#ffcccc"/>
<rect x="145.44" y="222.1" width="5.76" height="14.24" fill="#8080ff"/>
<rect x="150.8" y="222.1" width="5.76" height="14.24" fill="#0808ff"/>
<rect x="156.17" y="222.1" width="5.76" height="14.24" fill="#b2b2ff"/>
<rect x="161.53" y="222.1" width="5.76" height="14.24" fill="#3333ff"/>
<rect x="166.89" y="222.1" width="5.76" height="14.24" fill="#d9d9ff"/>
<rect x="172.25" y="222.1" width="5.76" height="14.24" fill="#ff8080"/>
<rect x="177.61" y="222.1" width="5.76" height="14.24" fill="#ffebeb"/>
<rect x="182.97" y="222.1" width="5.76" height="14.24" fill="#ff9494"/>
<rect x="188.34" y="222.1" width="5.76" height="14.24" fill="#8080ff"/>
<rect x="193.7" y="222.1" width="5.76" height="14.24" fill="#8c8cff"/>
<rect x="199.06" y="222.1" width="5.76" height="14.24" fill="#9999ff"/>
<rect x="11.4" y="235.94" width="5.76" height="14.24" fill="#ffb2b2"/>
<rect x="16.76" y="235.94" width="5.76" height="14.24" fill="#ffadad"/>
<rect x="22.12" y="235.94" width="5.76" height="14.24" fill="#ffebeb"/>
<rect x="27.48" y="235.94" width="5.76" height="14.24" fill="#ffc2c2"/>
<rect x="32.85" y="235.94" width="5.76" height="14.24" fill="#fff2f2"/>
<rect x="38.21" y="235.94" width="5.76" height="14.24" fill="#ff4040"/>
<rect x="43.57" y="235.94" width="5.76" height="14.24" fill="#d9d9ff"/>
<rect x="48.93" y="235.94" width="5.76" height="14.24" fill="#ffebeb"/>
<rect x="54.29" y="235.94" width="5.76" height="14.24" fill="#ffd1d1"/>
<rect x="59.66" y="235.94" width="5.76" height="14.24" fill="#ffc2c2"/>
<rect x="65.02" y="235.94" width="5.76" height="14.24" fill="#3b3bff"/>
<rect x="70.38" y="235.94" width="5.76" height="14.24" fill="#5959ff"/>
<rect x="75.74" y="235.94" width="5.76" height="14.24" fill="#ffffff"/>
<rect x="81.1" y="235.94" width="5.76" height="14.24" fill="#6e6eff"/>
<rect x="86.46" y="235.94" width="5.76" height="14.24" fill="#ffebeb"/>
<rect x="91.83" y="235.94" width="5.76" height="14.24" fill="#ff9494"/>
<rect x="97.19" y="235.94" width="5.76" height="14.24" fill="#6e6eff"/>
<rect x="102.55" y="235.94" width="5.76" height="14.24" fill="#ffdbdb"/>
<rect x="107.91" y="235.94" width="5.76" height="14.24" fill="#fff0f0"/>
<rect x="113.27" y="235.94" width="5.76" height="14.24" fill="#6e6eff"/>
<rect x="118.63" y="235.94" width="5.76" height="14.24" fill="#ffffff"/>
<rect x="124" y="235.94" width="5.76" height="14.24" fill="#ffe0e0"/>
<rect x="129.36" y="235.94" width="5.76" height="14.24" fill="#ffe0e0"/>
<rect x="134.72" y="235.94" width="5.76" height="14.24" fill="#0808ff"/>
<rect x="140.08" y="235.94" width="5.76" height="14.24" fill="#ffeded"/>
<rect x="145.44" y="235.94" width="5.76" height="14.24" fill="#e6e6ff"/>
<rect x="150.8" y="235.94" width="5.76" height="14.24" fill="#ffdbdb"/>
<rect x="156.17" y="235.94" width="5.76" height="14.24" fill="#ffd1d1"/>
<rect x="161.53" y="235.94" width="5.76" height="14.24" fill="#ffeded"/>
<rect x="166.89" y="235.94" width="5.76" height="14.24" fill="#3b3bff"/>
<rect x="172.25" y="235.94" width="5.76" height="14.24" fill="#fff7f7"/>
<rect x="177.61" y="235.94" width="5.76" height="14.24" fill="#ffdbdb"/>
<rect x="182.97" y="235.94" width="5.76" height="14.24" fill="#ffbdbd"/>
<rect x="188.34" y="235.94" width="5.76" height="14.24" fill="#ff3b3b"/>
<rect x="193.7" y="235.94" width="5.76" height="14.24" fill="#a1a1ff"/>
<rect x="199.06" y="235.94" width="5.76" height="14.24" fill="#ababff"/>
</g>
<circle cx="19.44" cy="19.82" r="1.45" fill="#000"/>
<circle cx="94.51" cy="19.82" r="1.45" fill="#000"/>
<circle cx="78.42" cy="33.66" r="1.45" fill="#000"/>
<circle cx="191.02" cy="33.66" r="1.45" fill="#000"/>
<circle cx="67.7" cy="47.5" r="1.45" fill="#000"/>
<circle cx="153.48" cy="61.34" r="1.45" fill="#000"/>
<circle cx="94.51" cy="75.18" r="1.45" fill="#000"/>
<circle cx="121.31" cy="75.18" r="1.45" fill="#000"/>
<circle cx="67.7" cy="89.02" r="1.45" fill="#000"/>
<circle cx="94.51" cy="89.02" r="1.45" fill="#000"/>
<circle cx="121.31" cy="89.02" r="1.45" fill="#000"/>
<circle cx="137.4" cy="89.02" r="1.45" fill="#000"/>
<circle cx="30.17" cy="102.86" r="1.45" fill="#000"/>
<circle cx="46.25" cy="102.86" r="1.45" fill="#000"/>
<circle cx="40.89" cy="116.7" r="1.45" fill="#000"/>
<circle cx="169.57" cy="116.7" r="1.45" fill="#000"/>
<circle cx="153.48" cy="130.54" r="1.45" fill="#000"/>
<circle cx="14.08" cy="144.38" r="1.45" fill="#000"/>
<circle cx="40.89" cy="144.38" r="1.45" fill="#000"/>
<circle cx="78.42" cy="144.38" r="1.45" fill="#000"/>
<circle cx="121.31" cy="144.38" r="1.45" fill="#000"/>
<circle cx="19.44" cy="158.22" r="1.45" fill="#000"/>
<circle cx="83.78" cy="185.9" r="1.45" fill="#000"/>
<circle cx="89.14" cy="185.9" r="1.45" fill="#000"/>
<circle cx="148.12" cy="185.9" r="1.45" fill="#000"/>
<circle cx="191.02" cy="185.9" r="1.45" fill="#000"/>
<circle cx="126.68" cy="199.74" r="1.45" fill="#000"/>
<circle cx="40.89" cy="213.58" r="1.45" fill="#000"/>
<circle cx="142.76" cy="213.58" r="1.45" fill="#000"/>
<circle cx="99.87" cy="227.42" r="1.45" fill="#000"/>
<circle cx="153.48" cy="227.42" r="1.45" fill="#000"/>
<circle cx="174.93" cy="227.42" r="1.45" fill="#000"/>
<circle cx="40.89" cy="241.26" r="1.45" fill="#000"/>
<circle cx="137.4" cy="241.26" r="1.45" fill="#000"/>
<circle cx="191.02" cy="241.26" r="1.45" fill="#000"/>
<g stroke="#000" stroke-width="1" fill="none">
<rect x="11.4" y="14.5" width="193.02" height="235.28"/>
<line x1="43.57" y1="14.5" x2="43.57" y2="249.78" stroke-width="0.8"/>
<line x1="75.74" y1="14.5" x2="75.74" y2="249.78" stroke-width="0.8"/>
<line x1="107.91" y1="14.5" x2="107.91" y2="249.78" stroke-width="0.8"/>
<line x1="140.08" y1="14.5" x2="140.08" y2="249.78" stroke-width="0.8"/>
<line x1="172.25" y1="14.5" x2="172.25" y2="249.78" stroke-width="0.8"/>
</g>
<rect x="204.3" y="14.5" width="4.2" height="13.84" fill="#000000" stroke="#000" stroke-width="0.9"/>
<text class="l" transform="matrix(1,0.0005,0,1,210.9,23.52)">Black</text>
<rect x="204.3" y="28.34" width="4.2" height="13.84" fill="#0000ff" stroke="#000" stroke-width="0.9"/>
<text class="l" transform="matrix(1,0.0005,0,1,210.9,37.36)">Blue</text>
<rect x="204.3" y="42.18" width="4.2" height="13.84" fill="#a5501e" stroke="#000" stroke-width="0.9"/>
<text class="l" transform="matrix(1,0.0005,0,1,210.9,51.2)">Brown</text>
<rect x="204.3" y="56.02" width="4.2" height="13.84" fill="#00ffff" stroke="#000" stroke-width="0.9"/>
<text class="l" transform="matrix(1,0.0005,0,1,210.9,65.04)">Cyan</text>
<rect x="204.3" y="69.86" width="4.2" height="13.84" fill="#8b0000" stroke="#000" stroke-width="0.9"/>
<text class="l" transform="matrix(1,0.0005,0,1,210.9,78.88)">Dark Red</text>
<rect x="204.3" y="83.7" width="4.2" height="13.84" fill="#008000" stroke="#000" stroke-width="0.9"/>
<text class="l" transform="matrix(1,0.0005,0,1,210.9,92.72)">Green</text>
<rect x="204.3" y="97.54" width="4.2" height="13.84" fill="#adff2f" stroke="#000" stroke-width="0.9"/>
<text class="l" transform="matrix(1,0.0005,0,1,210.9,106.56)">Green Yellow</text>
<rect x="204.3" y="111.38" width="4.2" height="13.84" fill="#999999" stroke="#000" stroke-width="0.9"/>
<text class="l" transform="matrix(1,0.0005,0,1,210.9,120.4)">Grey</text>
<rect x="204.3" y="125.22" width="4.2" height="13.84" fill="#e0e0e0" stroke="#000" stroke-width="0.9"/>
<text class="l" transform="matrix(1,0.0005,0,1,210.9,134.24)">Grey 60</text>
<rect x="204.3" y="139.06" width="4.2" height="13.84" fill="#e0ffff" stroke="#000" stroke-width="0.9"/>
<text class="l" transform="matrix(1,0.0005,0,1,210.9,148.08)">Light Cyan</text>
<rect x="204.3" y="152.9" width="4.2" height="13.84" fill="#90ee90" stroke="#000" stroke-width="0.9"/>
<text class="l" transform="matrix(1,0.0005,0,1,210.9,161.92)">Light Green</text>
<rect x="204.3" y="166.74" width="4.2" height="13.84" fill="#191970" stroke="#000" stroke-width="0.9"/>
<text class="l" transform="matrix(1,0.0005,0,1,210.9,175.76)">Midnight Blue</text>
<rect x="204.3" y="180.58" width="4.2" height="13.84" fill="#ffc0cb" stroke="#000" stroke-width="0.9"/>
<text class="l" transform="matrix(1,0.0005,0,1,210.9,189.6)">Pink</text>
<rect x="204.3" y="194.42" width="4.2" height="13.84" fill="#8b008b" stroke="#000" stroke-width="0.9"/>
<text class="l" transform="matrix(1,0.0005,0,1,210.9,203.44)">Purple</text>
<rect x="204.3" y="208.26" width="4.2" height="13.84" fill="#4169e1" stroke="#000" stroke-width="0.9"/>
<text class="l" transform="matrix(1,0.0005,0,1,210.9,217.28)">Royal Blue</text>
<rect x="204.3" y="222.1" width="4.2" height="13.84" fill="#deb887" stroke="#000" stroke-width="0.9"/>
<text class="l" transform="matrix(1,0.0005,0,1,210.9,231.12)">Tan</text>
<rect x="204.3" y="235.94" width="4.2" height="13.84" fill="#40e0d0" stroke="#000" stroke-width="0.9"/>
<text class="l" transform="matrix(1,0.0005,0,1,210.9,244.96)">Turquoise</text>
<line x1="14.08" y1="249.78" x2="14.08" y2="252.5" stroke="#000" stroke-width="1.2"/>
<text text-anchor="middle" class="b" font-size="4.1" transform="matrix(1,0.0005,0,1,14.08,257.1)">Y</text>
<line x1="19.44" y1="249.78" x2="19.44" y2="252.5" stroke="#000" stroke-width="1.2"/>
<text text-anchor="middle" class="b" font-size="4.1" transform="matrix(1,0.0005,0,1,19.44,257.1)">O</text>
<line x1="24.8" y1="249.78" x2="24.8" y2="252.5" stroke="#000" stroke-width="1.2"/>
<text text-anchor="middle" class="b" font-size="4.1" transform="matrix(1,0.0005,0,1,24.8,257.1)">Y</text>
<line x1="30.17" y1="249.78" x2="30.17" y2="252.5" stroke="#000" stroke-width="1.2"/>
<text text-anchor="middle" class="b" font-size="4.1" transform="matrix(1,0.0005,0,1,30.17,257.1)">O</text>
<line x1="35.53" y1="249.78" x2="35.53" y2="252.5" stroke="#000" stroke-width="1.2"/>
<text text-anchor="middle" class="b" font-size="4.1" transform="matrix(1,0.0005,0,1,35.53,257.1)">Y</text>
<line x1="40.89" y1="249.78" x2="40.89" y2="252.5" stroke="#000" stroke-width="1.2"/>
<text text-anchor="middle" class="b" font-size="4.1" transform="matrix(1,0.0005,0,1,40.89,257.1)">O</text>
<line x1="46.25" y1="249.78" x2="46.25" y2="252.5" stroke="#000" stroke-width="1.2"/>
<text text-anchor="middle" class="b" font-size="4.1" transform="matrix(1,0.0005,0,1,46.25,257.1)">Y</text>
<line x1="51.61" y1="249.78" x2="51.61" y2="252.5" stroke="#000" stroke-width="1.2"/>
<text text-anchor="middle" class="b" font-size="4.1" transform="matrix(1,0.0005,0,1,51.61,257.1)">O</text>
<line x1="56.97" y1="249.78" x2="56.97" y2="252.5" stroke="#000" stroke-width="1.2"/>
<text text-anchor="middle" class="b" font-size="4.1" transform="matrix(1,0.0005,0,1,56.97,257.1)">Y</text>
<line x1="62.34" y1="249.78" x2="62.34" y2="252.5" stroke="#000" stroke-width="1.2"/>
<text text-anchor="middle" class="b" font-size="4.1" transform="matrix(1,0.0005,0,1,62.34,257.1)">O</text>
<line x1="67.7" y1="249.78" x2="67.7" y2="252.5" stroke="#000" stroke-width="1.2"/>
<text text-anchor="middle" class="b" font-size="4.1" transform="matrix(1,0.0005,0,1,67.7,257.1)">Y</text>
<line x1="73.06" y1="249.78" x2="73.06" y2="252.5" stroke="#000" stroke-width="1.2"/>
<text text-anchor="middle" class="b" font-size="4.1" transform="matrix(1,0.0005,0,1,73.06,257.1)">O</text>
<line x1="78.42" y1="249.78" x2="78.42" y2="252.5" stroke="#000" stroke-width="1.2"/>
<text text-anchor="middle" class="b" font-size="4.1" transform="matrix(1,0.0005,0,1,78.42,257.1)">Y</text>
<line x1="83.78" y1="249.78" x2="83.78" y2="252.5" stroke="#000" stroke-width="1.2"/>
<text text-anchor="middle" class="b" font-size="4.1" transform="matrix(1,0.0005,0,1,83.78,257.1)">O</text>
<line x1="89.14" y1="249.78" x2="89.14" y2="252.5" stroke="#000" stroke-width="1.2"/>
<text text-anchor="middle" class="b" font-size="4.1" transform="matrix(1,0.0005,0,1,89.14,257.1)">Y</text>
<line x1="94.51" y1="249.78" x2="94.51" y2="252.5" stroke="#000" stroke-width="1.2"/>
<text text-anchor="middle" class="b" font-size="4.1" transform="matrix(1,0.0005,0,1,94.51,257.1)">O</text>
<line x1="99.87" y1="249.78" x2="99.87" y2="252.5" stroke="#000" stroke-width="1.2"/>
<text text-anchor="middle" class="b" font-size="4.1" transform="matrix(1,0.0005,0,1,99.87,257.1)">Y</text>
<line x1="105.23" y1="249.78" x2="105.23" y2="252.5" stroke="#000" stroke-width="1.2"/>
<text text-anchor="middle" class="b" font-size="4.1" transform="matrix(1,0.0005,0,1,105.23,257.1)">O</text>
<line x1="110.59" y1="249.78" x2="110.59" y2="252.5" stroke="#000" stroke-width="1.2"/>
<text text-anchor="middle" class="b" font-size="4.1" transform="matrix(1,0.0005,0,1,110.59,257.1)">Y</text>
<line x1="115.95" y1="249.78" x2="115.95" y2="252.5" stroke="#000" stroke-width="1.2"/>
<text text-anchor="middle" class="b" font-size="4.1" transform="matrix(1,0.0005,0,1,115.95,257.1)">O</text>
<line x1="121.31" y1="249.78" x2="121.31" y2="252.5" stroke="#000" stroke-width="1.2"/>
<text text-anchor="middle" class="b" font-size="4.1" transform="matrix(1,0.0005,0,1,121.31,257.1)">Y</text>
<line x1="126.68" y1="249.78" x2="126.68" y2="252.5" stroke="#000" stroke-width="1.2"/>
<text text-anchor="middle" class="b" font-size="4.1" transform="matrix(1,0.0005,0,1,126.68,257.1)">O</text>
<line x1="132.04" y1="249.78" x2="132.04" y2="252.5" stroke="#000" stroke-width="1.2"/>
<text text-anchor="middle" class="b" font-size="4.1" transform="matrix(1,0.0005,0,1,132.04,257.1)">Y</text>
<line x1="137.4" y1="249.78" x2="137.4" y2="252.5" stroke="#000" stroke-width="1.2"/>
<text text-anchor="middle" class="b" font-size="4.1" transform="matrix(1,0.0005,0,1,137.4,257.1)">O</text>
<line x1="142.76" y1="249.78" x2="142.76" y2="252.5" stroke="#000" stroke-width="1.2"/>
<text text-anchor="middle" class="b" font-size="4.1" transform="matrix(1,0.0005,0,1,142.76,257.1)">Y</text>
<line x1="148.12" y1="249.78" x2="148.12" y2="252.5" stroke="#000" stroke-width="1.2"/>
<text text-anchor="middle" class="b" font-size="4.1" transform="matrix(1,0.0005,0,1,148.12,257.1)">O</text>
<line x1="153.48" y1="249.78" x2="153.48" y2="252.5" stroke="#000" stroke-width="1.2"/>
<text text-anchor="middle" class="b" font-size="4.1" transform="matrix(1,0.0005,0,1,153.48,257.1)">Y</text>
<line x1="158.85" y1="249.78" x2="158.85" y2="252.5" stroke="#000" stroke-width="1.2"/>
<text text-anchor="middle" class="b" font-size="4.1" transform="matrix(1,0.0005,0,1,158.85,257.1)">O</text>
<line x1="164.21" y1="249.78" x2="164.21" y2="252.5" stroke="#000" stroke-width="1.2"/>
<text text-anchor="middle" class="b" font-size="4.1" transform="matrix(1,0.0005,0,1,164.21,257.1)">Y</text>
<line x1="169.57" y1="249.78" x2="169.57" y2="252.5" stroke="#000" stroke-width="1.2"/>
<text text-anchor="middle" class="b" font-size="4.1" transform="matrix(1,0.0005,0,1,169.57,257.1)">O</text>
<line x1="174.93" y1="249.78" x2="174.93" y2="252.5" stroke="#000" stroke-width="1.2"/>
<text text-anchor="middle" class="b" font-size="4.1" transform="matrix(1,0.0005,0,1,174.93,257.1)">Y</text>
<line x1="180.29" y1="249.78" x2="180.29" y2="252.5" stroke="#000" stroke-width="1.2"/>
<text text-anchor="middle" class="b" font-size="4.1" transform="matrix(1,0.0005,0,1,180.29,257.1)">O</text>
<line x1="185.65" y1="249.78" x2="185.65" y2="252.5" stroke="#000" stroke-width="1.2"/>
<text text-anchor="middle" class="b" font-size="4.1" transform="matrix(1,0.0005,0,1,185.65,257.1)">Y</text>
<line x1="191.02" y1="249.78" x2="191.02" y2="252.5" stroke="#000" stroke-width="1.2"/>
<text text-anchor="middle" class="b" font-size="4.1" transform="matrix(1,0.0005,0,1,191.02,257.1)">O</text>
<line x1="196.38" y1="249.78" x2="196.38" y2="252.5" stroke="#000" stroke-width="1.2"/>
<text text-anchor="middle" class="b" font-size="4.1" transform="matrix(1,0.0005,0,1,196.38,257.1)">Y</text>
<line x1="201.74" y1="249.78" x2="201.74" y2="252.5" stroke="#000" stroke-width="1.2"/>
<text text-anchor="middle" class="b" font-size="4.1" transform="matrix(1,0.0005,0,1,201.74,257.1)">O</text>
<line x1="12.78" y1="257.75" x2="20.84" y2="257.75" stroke="#000" stroke-width="0.9"/>
<text text-anchor="middle" class="b" font-size="3.5" style="stroke-width:0.3px" transform="matrix(1,0.0005,0,1,16.76,262.2)">HIIT</text>
<line x1="23.5" y1="257.75" x2="31.57" y2="257.75" stroke="#000" stroke-width="0.9"/>
<text text-anchor="middle" class="b" font-size="3.5" style="stroke-width:0.3px" transform="matrix(1,0.0005,0,1,27.49,262.2)">RT</text>
<line x1="34.23" y1="257.75" x2="42.29" y2="257.75" stroke="#000" stroke-width="0.9"/>
<text text-anchor="middle" class="b" font-size="3.5" style="stroke-width:0.3px" transform="matrix(1,0.0005,0,1,38.21,262.2)">CT</text>
<line x1="44.95" y1="257.75" x2="53.01" y2="257.75" stroke="#000" stroke-width="0.9"/>
<text text-anchor="middle" class="b" font-size="3.5" style="stroke-width:0.3px" transform="matrix(1,0.0005,0,1,48.93,262.2)">HIIT</text>
<line x1="55.67" y1="257.75" x2="63.74" y2="257.75" stroke="#000" stroke-width="0.9"/>
<text text-anchor="middle" class="b" font-size="3.5" style="stroke-width:0.3px" transform="matrix(1,0.0005,0,1,59.66,262.2)">RT</text>
<line x1="66.4" y1="257.75" x2="74.46" y2="257.75" stroke="#000" stroke-width="0.9"/>
<text text-anchor="middle" class="b" font-size="3.5" style="stroke-width:0.3px" transform="matrix(1,0.0005,0,1,70.38,262.2)">CT</text>
<line x1="77.12" y1="257.75" x2="85.18" y2="257.75" stroke="#000" stroke-width="0.9"/>
<text text-anchor="middle" class="b" font-size="3.5" style="stroke-width:0.3px" transform="matrix(1,0.0005,0,1,81.1,262.2)">HIIT</text>
<line x1="87.84" y1="257.75" x2="95.91" y2="257.75" stroke="#000" stroke-width="0.9"/>
<text text-anchor="middle" class="b" font-size="3.5" style="stroke-width:0.3px" transform="matrix(1,0.0005,0,1,91.83,262.2)">RT</text>
<line x1="98.57" y1="257.75" x2="106.63" y2="257.75" stroke="#000" stroke-width="0.9"/>
<text text-anchor="middle" class="b" font-size="3.5" style="stroke-width:0.3px" transform="matrix(1,0.0005,0,1,102.55,262.2)">CT</text>
<line x1="109.29" y1="257.75" x2="117.35" y2="257.75" stroke="#000" stroke-width="0.9"/>
<text text-anchor="middle" class="b" font-size="3.5" style="stroke-width:0.3px" transform="matrix(1,0.0005,0,1,113.27,262.2)">HIIT</text>
<line x1="120.01" y1="257.75" x2="128.08" y2="257.75" stroke="#000" stroke-width="0.9"/>
<text text-anchor="middle" class="b" font-size="3.5" style="stroke-width:0.3px" transform="matrix(1,0.0005,0,1,124,262.2)">RT</text>
<line x1="130.74" y1="257.75" x2="138.8" y2="257.75" stroke="#000" stroke-width="0.9"/>
<text text-anchor="middle" class="b" font-size="3.5" style="stroke-width:0.3px" transform="matrix(1,0.0005,0,1,134.72,262.2)">CT</text>
<line x1="141.46" y1="257.75" x2="149.52" y2="257.75" stroke="#000" stroke-width="0.9"/>
<text text-anchor="middle" class="b" font-size="3.5" style="stroke-width:0.3px" transform="matrix(1,0.0005,0,1,145.44,262.2)">HIIT</text>
<line x1="152.18" y1="257.75" x2="160.25" y2="257.75" stroke="#000" stroke-width="0.9"/>
<text text-anchor="middle" class="b" font-size="3.5" style="stroke-width:0.3px" transform="matrix(1,0.0005,0,1,156.17,262.2)">RT</text>
<line x1="162.91" y1="257.75" x2="170.97" y2="257.75" stroke="#000" stroke-width="0.9"/>
<text text-anchor="middle" class="b" font-size="3.5" style="stroke-width:0.3px" transform="matrix(1,0.0005,0,1,166.89,262.2)">CT</text>
<line x1="173.63" y1="257.75" x2="181.69" y2="257.75" stroke="#000" stroke-width="0.9"/>
<text text-anchor="middle" class="b" font-size="3.5" style="stroke-width:0.3px" transform="matrix(1,0.0005,0,1,177.61,262.2)">HIIT</text>
<line x1="184.35" y1="257.75" x2="192.42" y2="257.75" stroke="#000" stroke-width="0.9"/>
<text text-anchor="middle" class="b" font-size="3.5" style="stroke-width:0.3px" transform="matrix(1,0.0005,0,1,188.34,262.2)">RT</text>
<line x1="195.08" y1="257.75" x2="203.14" y2="257.75" stroke="#000" stroke-width="0.9"/>
<text text-anchor="middle" class="b" font-size="3.5" style="stroke-width:0.3px" transform="matrix(1,0.0005,0,1,199.06,262.2)">CT</text>
<line x1="13.58" y1="264.4" x2="41.39" y2="264.4" stroke="#000" stroke-width="0.9"/>
<text text-anchor="middle" class="b" font-size="4.3" transform="matrix(1,0.0005,0,1,27.48,268.9)">Glucose Rd</text>
<line x1="45.75" y1="264.4" x2="73.56" y2="264.4" stroke="#000" stroke-width="0.9"/>
<text text-anchor="middle" class="b" font-size="4.3" transform="matrix(1,0.0005,0,1,59.66,268.9)">VO<tspan font-size="3.2" dy="0.8">2</tspan><tspan dy="-0.8">max</tspan></text>
<line x1="77.92" y1="264.4" x2="105.73" y2="264.4" stroke="#000" stroke-width="0.9"/>
<text text-anchor="middle" class="b" font-size="4.3" transform="matrix(1,0.0005,0,1,91.83,268.9)">Mito FSR</text>
<line x1="110.09" y1="264.4" x2="137.9" y2="264.4" stroke="#000" stroke-width="0.9"/>
<text text-anchor="middle" class="b" font-size="4.3" transform="matrix(1,0.0005,0,1,124,268.9)">FFM</text>
<line x1="142.26" y1="264.4" x2="170.07" y2="264.4" stroke="#000" stroke-width="0.9"/>
<text text-anchor="middle" class="b" font-size="4.3" transform="matrix(1,0.0005,0,1,156.17,268.9)">1 Rep Max</text>
<line x1="174.43" y1="264.4" x2="202.24" y2="264.4" stroke="#000" stroke-width="0.9"/>
<text text-anchor="middle" class="b" font-size="4.3" transform="matrix(1,0.0005,0,1,188.34,268.9)">State 3 CI+II</text>
<defs><linearGradient id="cb" x1="0" y1="0" x2="0" y2="1"><stop offset="0" stop-color="#0000ff"/><stop offset="0.5" stop-color="#ffffff"/><stop offset="1" stop-color="#ff0000"/></linearGradient></defs>
<rect x="5.6" y="77.5" width="4" height="123.7" fill="url(#cb)" stroke="#222" stroke-width="0.5"/>
<text transform="translate(3.1,77.5) rotate(-90)" text-anchor="middle" font-size="4">1.0</text>
<line x1="5.6" y1="108.42" x2="6.6" y2="108.42" stroke="#000" stroke-width="0.4"/>
<line x1="8.6" y1="108.42" x2="9.6" y2="108.42" stroke="#000" stroke-width="0.4"/>
<text transform="translate(3.1,108.42) rotate(-90)" text-anchor="middle" font-size="4">0.5</text>
<line x1="5.6" y1="139.35" x2="6.6" y2="139.35" stroke="#000" stroke-width="0.4"/>
<line x1="8.6" y1="139.35" x2="9.6" y2="139.35" stroke="#000" stroke-width="0.4"/>
<text transform="translate(3.1,139.35) rotate(-90)" text-anchor="middle" font-size="4">0</text>
<line x1="5.6" y1="170.27" x2="6.6" y2="170.27" stroke="#000" stroke-width="0.4"/>
<line x1="8.6" y1="170.27" x2="9.6" y2="170.27" stroke="#000" stroke-width="0.4"/>
<text transform="translate(3.1,170.27) rotate(-90)" text-anchor="middle" font-size="4">-0.5</text>
<text transform="translate(3.1,201.2) rotate(-90)" text-anchor="middle" font-size="4">-1.0</text>
<text class="p" transform="matrix(1,0.0005,0,1,12,10.6)">A</text>
<text class="p" transform="matrix(1,0.0005,0,1,256.3,26.6)">B</text>
<text class="p" transform="matrix(1,0.0005,0,1,405.5,26.8)">C</text>
<text class="p" transform="matrix(1,0.0005,0,1,301.3,83.2)">D</text>
<text class="p" transform="matrix(1,0.0005,0,1,271.3,139.8)">E</text>
<text class="p" transform="matrix(1,0.0005,0,1,255.1,197.4)">F</text>
<rect x="259.7" y="29.9" width="113.3" height="5.5" fill="#aa0000"/>
<g stroke="#333" stroke-width="0.5" fill="none">
<rect x="259.7" y="29.9" width="113.3" height="38.7"/>
<line x1="259.7" y1="35.4" x2="373" y2="35.4"/>
<line x1="259.7" y1="41.2" x2="373" y2="41.2" stroke-width="0.7"/>
<line x1="317" y1="35.4" x2="317" y2="68.6"/>
</g>
<text class="t b" style="fill:#fff;stroke:#fff" transform="matrix(1,0.0005,0,1,260.7,34)">Module: Dark Red</text>
<text class="t" transform="matrix(1,0.0005,0,1,260.7,39.8)">Reactome Pathways</text>
<text class="t" transform="matrix(1,0.0005,0,1,318,39.8)">DAVID Cellular Component</text>
<text class="t" transform="matrix(1,0.0005,0,1,260.7,45.6)">Smooth Muscle Contraction</text>
<text class="t" transform="matrix(1,0.0005,0,1,260.7,51.05)">RHO GTPases activate PAKs</text>
<text class="t" transform="matrix(1,0.0005,0,1,260.7,56.5)">Muscle contraction</text>
<text class="t" transform="matrix(1,0.0005,0,1,318,45.6)">extracellular exosome</text>
<text class="t" transform="matrix(1,0.0005,0,1,318,51.05)">extracellular vesicle</text>
<text class="t" transform="matrix(1,0.0005,0,1,318,56.5)">extracellular organelle</text>
<text class="t" transform="matrix(1,0.0005,0,1,318,61.95)">cytoplasm</text>
<text class="t" transform="matrix(1,0.0005,0,1,318,67.4)">cytoplasmic part</text>
<rect x="407.1" y="29.7" width="108.9" height="5.5" fill="#adff2f"/>
<g stroke="#333" stroke-width="0.5" fill="none">
<rect x="407.1" y="29.7" width="108.9" height="38.7"/>
<line x1="407.1" y1="35.2" x2="516" y2="35.2"/>
<line x1="407.1" y1="41" x2="516" y2="41" stroke-width="0.7"/>
<line x1="461" y1="35.2" x2="461" y2="68.4"/>
</g>
<text class="t b" style="fill:#000;stroke:#000" transform="matrix(1,0.0005,0,1,408.1,33.8)">Module: Green Yellow</text>
<text class="t" transform="matrix(1,0.0005,0,1,408.1,39.6)">Reactome Pathways</text>
<text class="t" transform="matrix(1,0.0005,0,1,462,39.6)">DAVID Cellular Component</text>
<text class="t" transform="matrix(1,0.0005,0,1,408.1,45.4)">Striated Muscle Contraction</text>
<text class="t" transform="matrix(1,0.0005,0,1,408.1,50.85)">Muscle contraction</text>
<text class="t" transform="matrix(1,0.0005,0,1,462,45.4)">sarcomere</text>
<text class="t" transform="matrix(1,0.0005,0,1,462,50.85)">contractile fiber part</text>
<text class="t" transform="matrix(1,0.0005,0,1,462,56.3)">supramolecular fiber</text>
<text class="t" transform="matrix(1,0.0005,0,1,462,61.75)">I band</text>
<text class="t" transform="matrix(1,0.0005,0,1,462,67.2)">troponin complex</text>
<rect x="303.7" y="86.9" width="168.5" height="5.5" fill="#808080"/>
<g stroke="#333" stroke-width="0.5" fill="none">
<rect x="303.7" y="86.9" width="168.5" height="38.7"/>
<line x1="303.7" y1="92.4" x2="472.2" y2="92.4"/>
<line x1="303.7" y1="98.2" x2="472.2" y2="98.2" stroke-width="0.7"/>
<line x1="359.8" y1="92.4" x2="359.8" y2="125.6"/>
</g>
<text class="t b" style="fill:#fff;stroke:#fff" transform="matrix(1,0.0005,0,1,304.7,91)">Module: Grey</text>
<text class="t" transform="matrix(1,0.0005,0,1,304.7,96.8)">DAVID Cellular Component</text>
<text class="t" transform="matrix(1,0.0005,0,1,360.8,96.8)">Metabolites</text>
<text class="t" transform="matrix(1,0.0005,0,1,304.7,102.6)">intracellular part</text>
<text class="t" transform="matrix(1,0.0005,0,1,304.7,108.05)">nucleus</text>
<text class="t" transform="matrix(1,0.0005,0,1,304.7,113.5)">intracellular organelle</text>
<text class="t" transform="matrix(1,0.0005,0,1,360.8,102.6)">Leucine</text>
<text class="t" transform="matrix(1,0.0005,0,1,392,102.6)">Isoleucine</text>
<text class="t" transform="matrix(1,0.0005,0,1,423,102.6)">Valine</text>
<text class="t" transform="matrix(1,0.0005,0,1,360.8,108.05)">Tyrosine</text>
<text class="t" transform="matrix(1,0.0005,0,1,392.8,108.05)">Tryptophan</text>
<text class="t" transform="matrix(1,0.0005,0,1,423,108.05)">Phenylalanine</text>
<text class="t" transform="matrix(1,0.0005,0,1,360.8,113.5)">α-aminoadipic Acid</text>
<text class="t" transform="matrix(1,0.0005,0,1,423,113.5)">Cystathionine 1</text>
<text class="t" transform="matrix(1,0.0005,0,1,360.8,118.95)">Ethanolamine</text>
<text class="t" transform="matrix(1,0.0005,0,1,360.8,124.4)">Butyrylcarnitine (C4)</text>
<text class="t" transform="matrix(1,0.0005,0,1,423,124.4)">Octanoylcarnitine (C8)</text>
<rect x="272" y="143.9" width="220.8" height="5.5" fill="#d5f6fa"/>
<g stroke="#333" stroke-width="0.5" fill="none">
<rect x="272" y="143.9" width="220.8" height="38.7"/>
<line x1="272" y1="149.4" x2="492.8" y2="149.4"/>
<line x1="272" y1="155.2" x2="492.8" y2="155.2" stroke-width="0.7"/>
<line x1="389.3" y1="149.4" x2="389.3" y2="182.6"/>
<line x1="443.4" y1="149.4" x2="443.4" y2="182.6"/>
</g>
<text class="t b" style="fill:#000;stroke:#000" transform="matrix(1,0.0005,0,1,273,148)">Module: Light Cyan</text>
<text class="t" transform="matrix(1,0.0005,0,1,273,153.8)">Reactome Pathways</text>
<text class="t" transform="matrix(1,0.0005,0,1,390.3,153.8)">DAVID Cellular Component</text>
<text class="t" transform="matrix(1,0.0005,0,1,444.4,153.8)">Metabolites</text>
<text class="t" transform="matrix(1,0.0005,0,1,273,159.6)">Fatty acid metabolism</text>
<text class="t" transform="matrix(1,0.0005,0,1,273,165.05)">Metabolism of lipids</text>
<text class="t" transform="matrix(1,0.0005,0,1,273,170.5)">Mitochondrial Fatty Acid Beta-Oxidation</text>
<text class="t" transform="matrix(1,0.0005,0,1,273,175.95)">Protein localization</text>
<text class="t" transform="matrix(1,0.0005,0,1,273,181.4)">mitochondrial fatty acid beta-oxidation of saturated fatty acids</text>
<text class="t" transform="matrix(1,0.0005,0,1,390.3,159.6)">mitochondrial part</text>
<text class="t" transform="matrix(1,0.0005,0,1,390.3,165.05)">mitochondrial membrane</text>
<text class="t" transform="matrix(1,0.0005,0,1,390.3,170.5)">organelle inner membrane</text>
<text class="t" transform="matrix(1,0.0005,0,1,390.3,175.95)">organelle envelope</text>
<text class="t" transform="matrix(1,0.0005,0,1,390.3,181.4)">envelope</text>
<text class="t" transform="matrix(1,0.0005,0,1,444.4,159.6)">Lauroylcarnitine (C12)</text>
<text class="t" transform="matrix(1,0.0005,0,1,444.4,165.05)">Myristoylcarnitine (C14)</text>
<text class="t" transform="matrix(1,0.0005,0,1,444.4,170.5)">Palmitoylcarnitine (C16)</text>
<text class="t" transform="matrix(1,0.0005,0,1,444.4,175.95)">Oleoylcarnitine (C18:1)</text>
<rect x="255" y="200.2" width="264.3" height="5.5" fill="#40e0d0"/>
<g stroke="#333" stroke-width="0.5" fill="none">
<rect x="255" y="200.2" width="264.3" height="38.7"/>
<line x1="255" y1="205.7" x2="519.3" y2="205.7"/>
<line x1="255" y1="211.5" x2="519.3" y2="211.5" stroke-width="0.7"/>
<line x1="367" y1="205.7" x2="367" y2="238.9"/>
<line x1="421.3" y1="205.7" x2="421.3" y2="238.9"/>
</g>
<text class="t b" style="fill:#000;stroke:#000" transform="matrix(1,0.0005,0,1,256,204.3)">Module: Turquoise</text>
<text class="t" transform="matrix(1,0.0005,0,1,256,210.1)">Reactome Pathways</text>
<text class="t" transform="matrix(1,0.0005,0,1,368,210.1)">DAVID Cellular Component</text>
<text class="t" transform="matrix(1,0.0005,0,1,422.3,210.1)">Metabolites</text>
<text class="t" transform="matrix(1,0.0005,0,1,256,215.9)">Sema4D in semaphorin signaling</text>
<text class="t" transform="matrix(1,0.0005,0,1,256,221.35)">Sema4D induced cell migration and growth-cone collapse</text>
<text class="t" transform="matrix(1,0.0005,0,1,256,226.8)">Carboxyterminal post-translational modifications of tubulin</text>
<text class="t" transform="matrix(1,0.0005,0,1,256,232.25)">Semaphorin interactions</text>
<text class="t" transform="matrix(1,0.0005,0,1,256,237.7)">RHO GTPases Activate ROCKs</text>
<text class="t" transform="matrix(1,0.0005,0,1,368,215.9)">cytosol</text>
<text class="t" transform="matrix(1,0.0005,0,1,368,221.35)">cytoplasm</text>
<text class="t" transform="matrix(1,0.0005,0,1,368,226.8)">intracellular part</text>
<text class="t" transform="matrix(1,0.0005,0,1,368,232.25)">cytoplasmic part</text>
<text class="t" transform="matrix(1,0.0005,0,1,368,237.7)">nucleoplasm</text>
<text class="t" transform="matrix(1,0.0005,0,1,422.3,215.9)">Serine</text>
<text class="t" transform="matrix(1,0.0005,0,1,440.6,215.9)">Threonine</text>
<text class="t" transform="matrix(1,0.0005,0,1,465.6,215.9)">Taurine</text>
<text class="t" transform="matrix(1,0.0005,0,1,498.8,215.9)">Alanine</text>
<text class="t" transform="matrix(1,0.0005,0,1,422.3,221.35)">Aspartic Acid</text>
<text class="t" transform="matrix(1,0.0005,0,1,461,221.35)">Glutamic Acid</text>
<text class="t" transform="matrix(1,0.0005,0,1,499.8,221.35)">β-Alanine</text>
<text class="t" transform="matrix(1,0.0005,0,1,422.3,226.8)">Asparagine</text>
<text class="t" transform="matrix(1,0.0005,0,1,459.8,226.8)">Methionine</text>
<text class="t" transform="matrix(1,0.0005,0,1,422.3,232.25)">Hydroxyproline</text>
<text class="t" transform="matrix(1,0.0005,0,1,459,232.25)">Hydroxylysine 2</text>
<text class="t" transform="matrix(1,0.0005,0,1,422.3,237.7)">Phosphoethanolamine</text>
<text class="t" transform="matrix(1,0.0005,0,1,480.7,237.7)">GABA</text>
</svg></body></html>
